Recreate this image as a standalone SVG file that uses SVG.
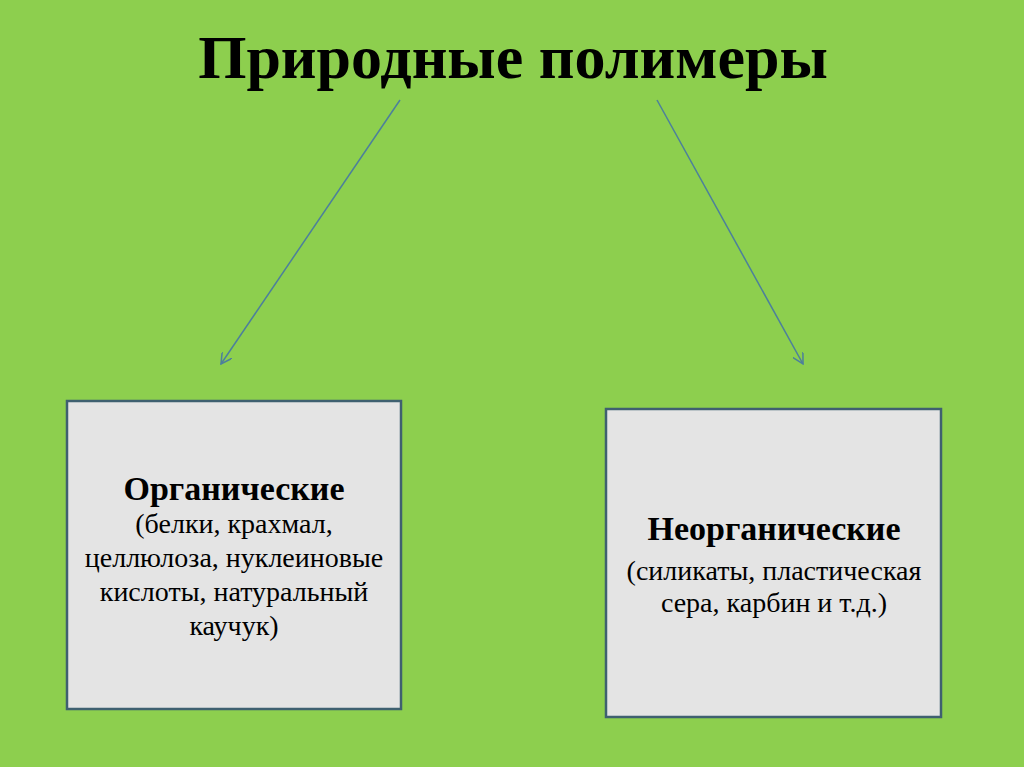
<svg xmlns="http://www.w3.org/2000/svg" width="1024" height="767" viewBox="0 0 1024 767">
<defs>
<style>
.box{fill:#e4e4e4;stroke:#3f6070;stroke-width:2.5}
.conn{stroke:#4c7f9c;stroke-width:1.5;fill:none}
.h{font-family:"Liberation Serif","DejaVu Serif",serif;font-weight:bold;font-size:34px;fill:#000;text-anchor:middle}
.t{font-family:"Liberation Serif","DejaVu Serif",serif;font-size:28px;fill:#000;text-anchor:middle}
.title{font-family:"Liberation Serif","DejaVu Serif",serif;font-weight:bold;font-size:62px;fill:#000;text-anchor:middle}
</style>
<marker id="arr" viewBox="0 0 12 12" refX="11" refY="6" markerWidth="12" markerHeight="12" markerUnits="userSpaceOnUse" orient="auto">
<path d="M0,0 L11,6 L0,12" fill="none" stroke="#4c7f9c" stroke-width="1.5"/>
</marker>
</defs>
<rect width="1024" height="767" fill="#8dcf4e"/>
<g id="title"><text class="title" x="513" y="78">Природные полимеры</text></g>
<g id="connectors">
<line class="conn" x1="400" y1="100" x2="221" y2="364" marker-end="url(#arr)"/>
<line class="conn" x1="657" y1="100" x2="803" y2="364" marker-end="url(#arr)"/>
</g>
<g id="organic">
<rect class="box" x="67" y="401" width="334" height="308"/>
<text class="h" x="234" y="500">Органические</text>
<text class="t" x="234" y="533">(белки, крахмал,</text>
<text class="t" x="234" y="567">целлюлоза, нуклеиновые</text>
<text class="t" x="234" y="601">кислоты, натуральный</text>
<text class="t" x="234" y="635">каучук)</text>
</g>
<g id="inorganic">
<rect class="box" x="606" y="409" width="335" height="308"/>
<text class="h" x="774" y="540">Неорганические</text>
<text class="t" x="774" y="580">(силикаты, пластическая</text>
<text class="t" x="774" y="612">сера, карбин и т.д.)</text>
</g>
</svg>
